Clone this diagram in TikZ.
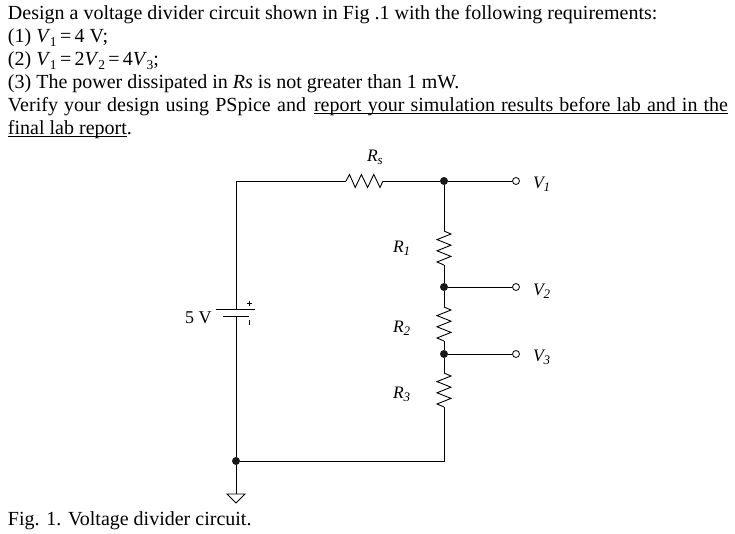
\documentclass[tikz,border=0pt]{standalone}
\usepackage{fontspec}
\setmainfont{Liberation Serif}
\newcommand{\mysub}[1]{\kern-0.5pt\raisebox{-0.2em}{\fontsize{13.5}{14}\selectfont #1}}
\newcommand{\lblsub}[1]{\raisebox{-0.22em}{\fontsize{13}{14}\selectfont\itshape #1}}
\newsavebox{\ulbox}
\newcommand{\myul}[1]{\sbox{\ulbox}{#1}\rlap{\rule[-3.2pt]{\wd\ulbox}{1pt}}\usebox{\ulbox}}
\tikzset{
  para/.style={anchor=base west,inner sep=0pt,outer sep=0pt,font=\fontsize{20}{22}\selectfont},
  lbl/.style={anchor=base west,inner sep=0pt,outer sep=0pt,font=\fontsize{17.5}{19}\selectfont\itshape},
  wire/.style={draw=black,line width=0.9pt,line join=miter},
  junction/.style={circle,fill=black!90,draw=none,minimum size=8pt,inner sep=0pt},
  term/.style={circle,draw=black,fill=white,line width=0.8pt,minimum size=7pt,inner sep=0pt},
}
\begin{document}
\begin{tikzpicture}[x=1pt,y=-1pt]
\useasboundingbox (0,0) rectangle (735,533);
% text
\node[para] (t1) at (8,19) {Design a voltage divider circuit shown in Fig .1 with the following requirements:};
\node[para] (t2) at (8,42) {(1) \textit{V}\mysub{1}\,=\,4 V;};
\node[para] (t3) at (8,65) {(2) \textit{V}\mysub{1}\,=\,2\textit{V}\mysub{2}\,=\,4\textit{V}\mysub{3};};
\node[para] (t4) at (8,88) {(3) The power dissipated in \textit{Rs} is not greater than 1 mW.};
\node[para] (t5) at (8,111) {\hbox to 720pt{\hbox to 298pt{Verify\hfill your\hfill design\hfill using\hfill PSpice\hfill and}\hfill\myul{\hbox to 414pt{report\hfill your\hfill simulation\hfill results\hfill before\hfill lab\hfill and\hfill in\hfill the}}}};
\node[para] (t6) at (8,134) {\myul{final lab report}.};
\node[para] (cap) at (8,525) {Fig. 1. Voltage divider circuit.};
% junctions and terminals
\node[junction] (j1) at (444,181) {};
\node[junction] (j2) at (444,287) {};
\node[junction] (j3) at (444,354) {};
\node[junction] (j4) at (236,461) {};
\node[term] (o1) at (516,181) {};
\node[term] (o2) at (516,287) {};
\node[term] (o3) at (516,354) {};
% corners and element ends
\coordinate (tl) at (236,181);
\coordinate (br) at (444,461);
\coordinate (rsa) at (346,181);
\coordinate (rsb) at (383,181);
\coordinate (r1a) at (444,231);
\coordinate (r1b) at (444,265);
\coordinate (r2a) at (444,307);
\coordinate (r2b) at (444,341);
\coordinate (r3a) at (444,373);
\coordinate (r3b) at (444,407);
\coordinate (bp) at (236,309);
\coordinate (bm) at (236,316);
\coordinate (g) at (236,494);
% wires
\draw[wire] (bp) -- (tl) -- (rsa);
\draw[wire] (rsb) -- (j1);
\draw[wire] (j1) -- (o1);
\draw[wire] (j1) -- (r1a);
\draw[wire] (r1b) -- (j2);
\draw[wire] (j2) -- (o2);
\draw[wire] (j2) -- (r2a);
\draw[wire] (r2b) -- (j3);
\draw[wire] (j3) -- (o3);
\draw[wire] (j3) -- (r3a);
\draw[wire] (r3b) -- (br) -- (j4);
\draw[wire] (bm) -- (j4);
\draw[wire] (j4) -- (g);
% resistors
\draw[wire] (rsa) -- ++(3.5,-6.5) -- ++(5.7,13) -- ++(6.2,-13) -- ++(6.2,13) -- ++(6.2,-13) -- ++(6.2,13) -- (rsb);
\foreach \a/\b in {r1a/r1b,r2a/r2b,r3a/r3b}{
  \draw[wire] (\a) -- ++(7,3) -- ++(-14,5.6) -- ++(14,5.6) -- ++(-14,5.6) -- ++(14,5.6) -- ++(-14,5.6) -- (\b);
}
% battery
\draw[draw=black,line width=1pt] (216,309) -- (255,309);
\draw[draw=black,line width=1pt] (223,316) -- (249,316);
\draw[draw=black,line width=0.7pt] (246.5,303.5) -- (251.5,303.5) (249,301) -- (249,306);
\draw[draw=black,line width=0.7pt] (249,320) -- (249,325);
% ground
\draw[wire] (227,494) -- (245,494) -- (236,503) -- cycle;
% labels
\node[lbl] (lrs) at (367,161) {R\lblsub{s}};
\node[lbl] (lr1) at (393,252) {R\lblsub{1}};
\node[lbl] (lr2) at (393,332) {R\lblsub{2}};
\node[lbl] (lr3) at (393,398) {R\lblsub{3}};
\node[lbl] (lv1) at (533,188) {V\lblsub{1}};
\node[lbl] (lv2) at (533,295) {V\lblsub{2}};
\node[lbl] (lv3) at (533,361) {V\lblsub{3}};
\node[anchor=base west,inner sep=0pt,font=\fontsize{18}{20}\selectfont] (l5) at (185,323) {5 V};
\end{tikzpicture}
\end{document}
